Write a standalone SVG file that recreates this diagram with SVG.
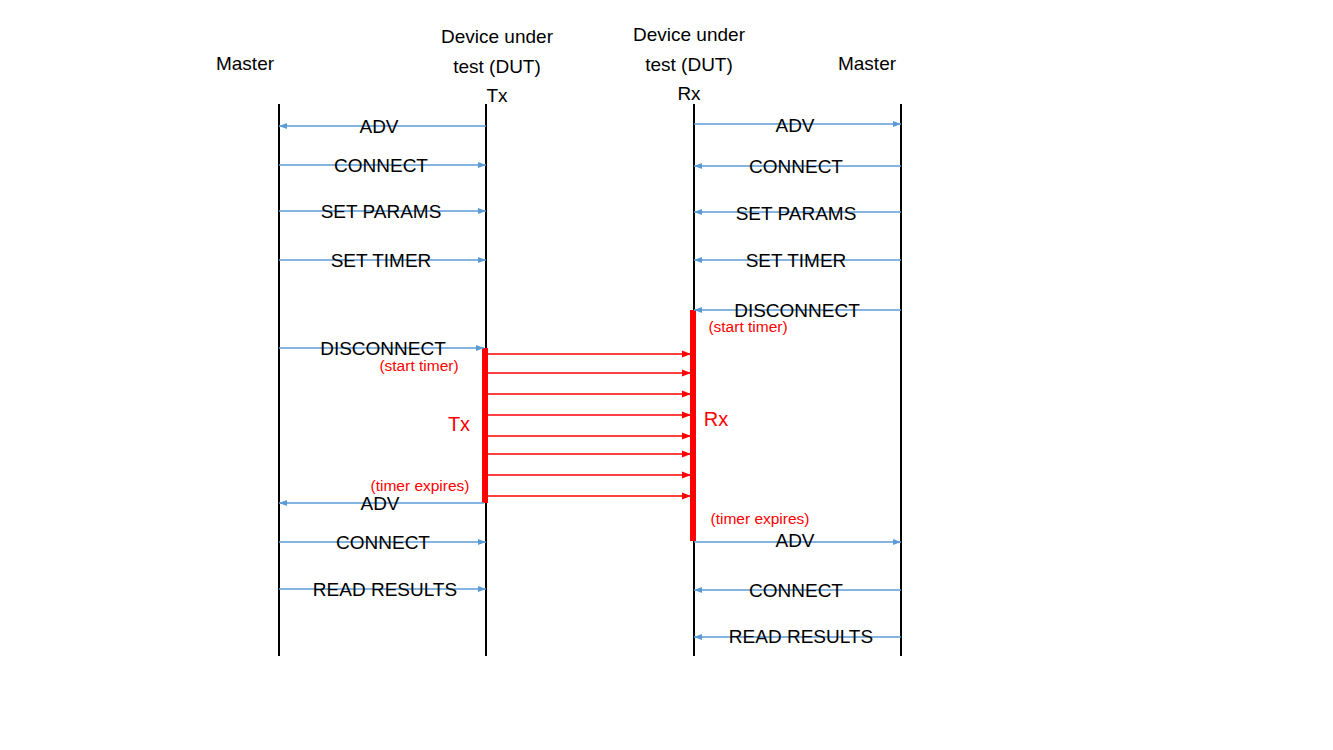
<svg xmlns="http://www.w3.org/2000/svg" width="1333" height="750" viewBox="0 0 1333 750">
<defs>
<marker id="b" markerWidth="8" markerHeight="8" refX="8" refY="4" orient="auto" markerUnits="userSpaceOnUse"><path d="M0,1 L8,4 L0,7 z" fill="#5B9BD5"/></marker>
<marker id="r" markerWidth="9" markerHeight="8" refX="9" refY="4" orient="auto" markerUnits="userSpaceOnUse"><path d="M0,0.5 L9,4 L0,7.5 z" fill="#FF0000"/></marker>
</defs>
<style>
text{font-family:"Liberation Sans",Arial,sans-serif;font-size:19px;fill:#000;text-anchor:middle}
.life{stroke:#000;stroke-width:2}
.m{stroke:#5B9BD5;stroke-width:1.3;marker-end:url(#b)}
.rr{stroke:#FF0000;stroke-width:1.3;marker-end:url(#r)}
.rl{font-size:15.5px;fill:#FF0000}
.big{font-size:20px;fill:#FF0000}
</style>
<rect width="1333" height="750" fill="#fff"/>
<g id="master-left"><line class="life" x1="279" y1="104" x2="279" y2="656"/><text x="245" y="70">Master</text></g>
<g id="dut-tx"><line class="life" x1="486" y1="104" x2="486" y2="656"/><text x="497" y="43">Device under</text><text x="497" y="73">test (DUT)</text><text x="497" y="102">Tx</text></g>
<g id="dut-rx"><line class="life" x1="694" y1="104" x2="694" y2="656"/><text x="689" y="41">Device under</text><text x="689" y="71">test (DUT)</text><text x="689" y="100">Rx</text></g>
<g id="master-right"><line class="life" x1="901" y1="104" x2="901" y2="656"/><text x="867" y="70">Master</text></g>
<g id="tx-bar"><rect x="482" y="348" width="6" height="155" fill="#FF0000"/><text class="big" x="459" y="431">Tx</text><text class="rl" x="419" y="371">(start timer)</text><text class="rl" x="420" y="491">(timer expires)</text></g>
<g id="rx-bar"><rect x="690" y="310" width="6" height="231" fill="#FF0000"/><text class="big" x="716" y="426">Rx</text><text class="rl" x="748" y="332">(start timer)</text><text class="rl" x="760" y="524">(timer expires)</text></g>
<g id="connectors">
<line class="m" x1="486" y1="126" x2="279" y2="126"/>
<line class="m" x1="279" y1="165" x2="486" y2="165"/>
<line class="m" x1="279" y1="211" x2="486" y2="211"/>
<line class="m" x1="279" y1="260" x2="486" y2="260"/>
<line class="m" x1="279" y1="348" x2="484" y2="348"/>
<line class="m" x1="484" y1="503" x2="279" y2="503"/>
<line class="m" x1="279" y1="542" x2="486" y2="542"/>
<line class="m" x1="279" y1="589" x2="486" y2="589"/>
<line class="m" x1="694" y1="124" x2="901" y2="124"/>
<line class="m" x1="901" y1="166" x2="694" y2="166"/>
<line class="m" x1="901" y1="212" x2="694" y2="212"/>
<line class="m" x1="901" y1="260" x2="694" y2="260"/>
<line class="m" x1="901" y1="310" x2="694" y2="310"/>
<line class="m" x1="694" y1="542" x2="901" y2="542"/>
<line class="m" x1="901" y1="590" x2="694" y2="590"/>
<line class="m" x1="901" y1="637" x2="694" y2="637"/>
<line class="rr" x1="488" y1="354" x2="691" y2="354"/>
<line class="rr" x1="488" y1="373" x2="691" y2="373"/>
<line class="rr" x1="488" y1="394" x2="691" y2="394"/>
<line class="rr" x1="488" y1="415" x2="691" y2="415"/>
<line class="rr" x1="488" y1="436" x2="691" y2="436"/>
<line class="rr" x1="488" y1="454" x2="691" y2="454"/>
<line class="rr" x1="488" y1="475" x2="691" y2="475"/>
<line class="rr" x1="488" y1="496" x2="691" y2="496"/>
</g>
<g id="labels">
<text x="379" y="133">ADV</text>
<text x="381" y="172">CONNECT</text>
<text x="381" y="218">SET PARAMS</text>
<text x="381" y="267">SET TIMER</text>
<text x="383" y="355">DISCONNECT</text>
<text x="380" y="510">ADV</text>
<text x="383" y="549">CONNECT</text>
<text x="385" y="596">READ RESULTS</text>
<text x="795" y="132">ADV</text>
<text x="796" y="173">CONNECT</text>
<text x="796" y="220">SET PARAMS</text>
<text x="796" y="267">SET TIMER</text>
<text x="797" y="317">DISCONNECT</text>
<text x="795" y="547">ADV</text>
<text x="796" y="597">CONNECT</text>
<text x="801" y="643">READ RESULTS</text>
</g>
</svg>
